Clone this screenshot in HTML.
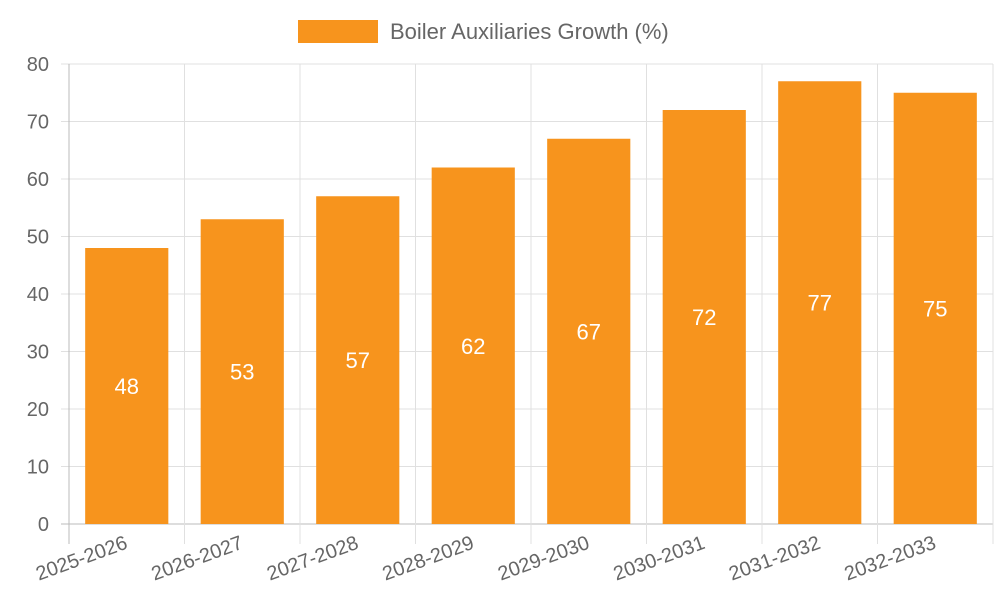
<!DOCTYPE html>
<html><head><meta charset="utf-8"><style>
body{margin:0;background:#fff;}
svg{display:block;font-family:"Liberation Sans",sans-serif;}
</style></head><body>
<svg id="chart" width="1000" height="600">
<g id="grid"></g>
<g id="bars"></g>
<g id="labels"></g>
<g>
<rect x="298" y="20" width="80" height="23" fill="#f7941d"/>
<text x="390" y="39" font-size="22" fill="#666">Boiler Auxiliaries Growth (%)</text>
</g>
</svg>
<script>
const categories=["2025-2026","2026-2027","2027-2028","2028-2029","2029-2030","2030-2031","2031-2032","2032-2033"];
const values=[48,53,57,62,67,72,77,75];
const yTicks=[0,10,20,30,40,50,60,70,80];
const NS="http://www.w3.org/2000/svg";
const L=69,R=993,T=64,B=524,yMax=80;
const bw=(R-L)/categories.length;
const y=v=>B-(v/yMax)*(B-T);
const x=i=>L+bw*i;
function mk(tag,attrs,parent,txt){const e=document.createElementNS(NS,tag);for(const k in attrs)e.setAttribute(k,attrs[k]);if(txt!==undefined)e.textContent=txt;parent.appendChild(e);return e;}
const grid=document.getElementById('grid'),bars=document.getElementById('bars'),labels=document.getElementById('labels');
yTicks.forEach(t=>{
  const ln=mk('line',{x1:L-8,x2:R,y1:y(t),y2:y(t),stroke:t===0?'#bbb':'#e0e0e0','stroke-width':1},grid);
  
  
  const tx=mk('text',{x:L-20,y:y(t)+7,'text-anchor':'end','font-size':20,fill:'#666'},labels,t);
  
  
});
for(let i=0;i<=categories.length;i++){
  const ln=mk('line',{x1:x(i),x2:x(i),y1:T,y2:B+20,stroke:i===0?'#bbb':'#e0e0e0','stroke-width':1},grid);
  
  
}
categories.forEach((c,i)=>{
  const v=values[i];
  const cx=x(i)+bw/2,w=bw*0.72;
  const r=mk('rect',{x:cx-w/2,y:y(v),width:w,height:B-y(v),fill:'#f7941d'},bars);
  
  
  const vl=mk('text',{x:cx,y:(y(v)+B)/2+8,'text-anchor':'middle','font-size':22,fill:'#fff'},labels,v);
  
  
  const xl=mk('text',{x:cx+2,y:B+24,'text-anchor':'end','font-size':20,fill:'#666',transform:`rotate(-20 ${cx+2} ${B+24})`},labels,c);
  
  
});
</script>
</body></html>
